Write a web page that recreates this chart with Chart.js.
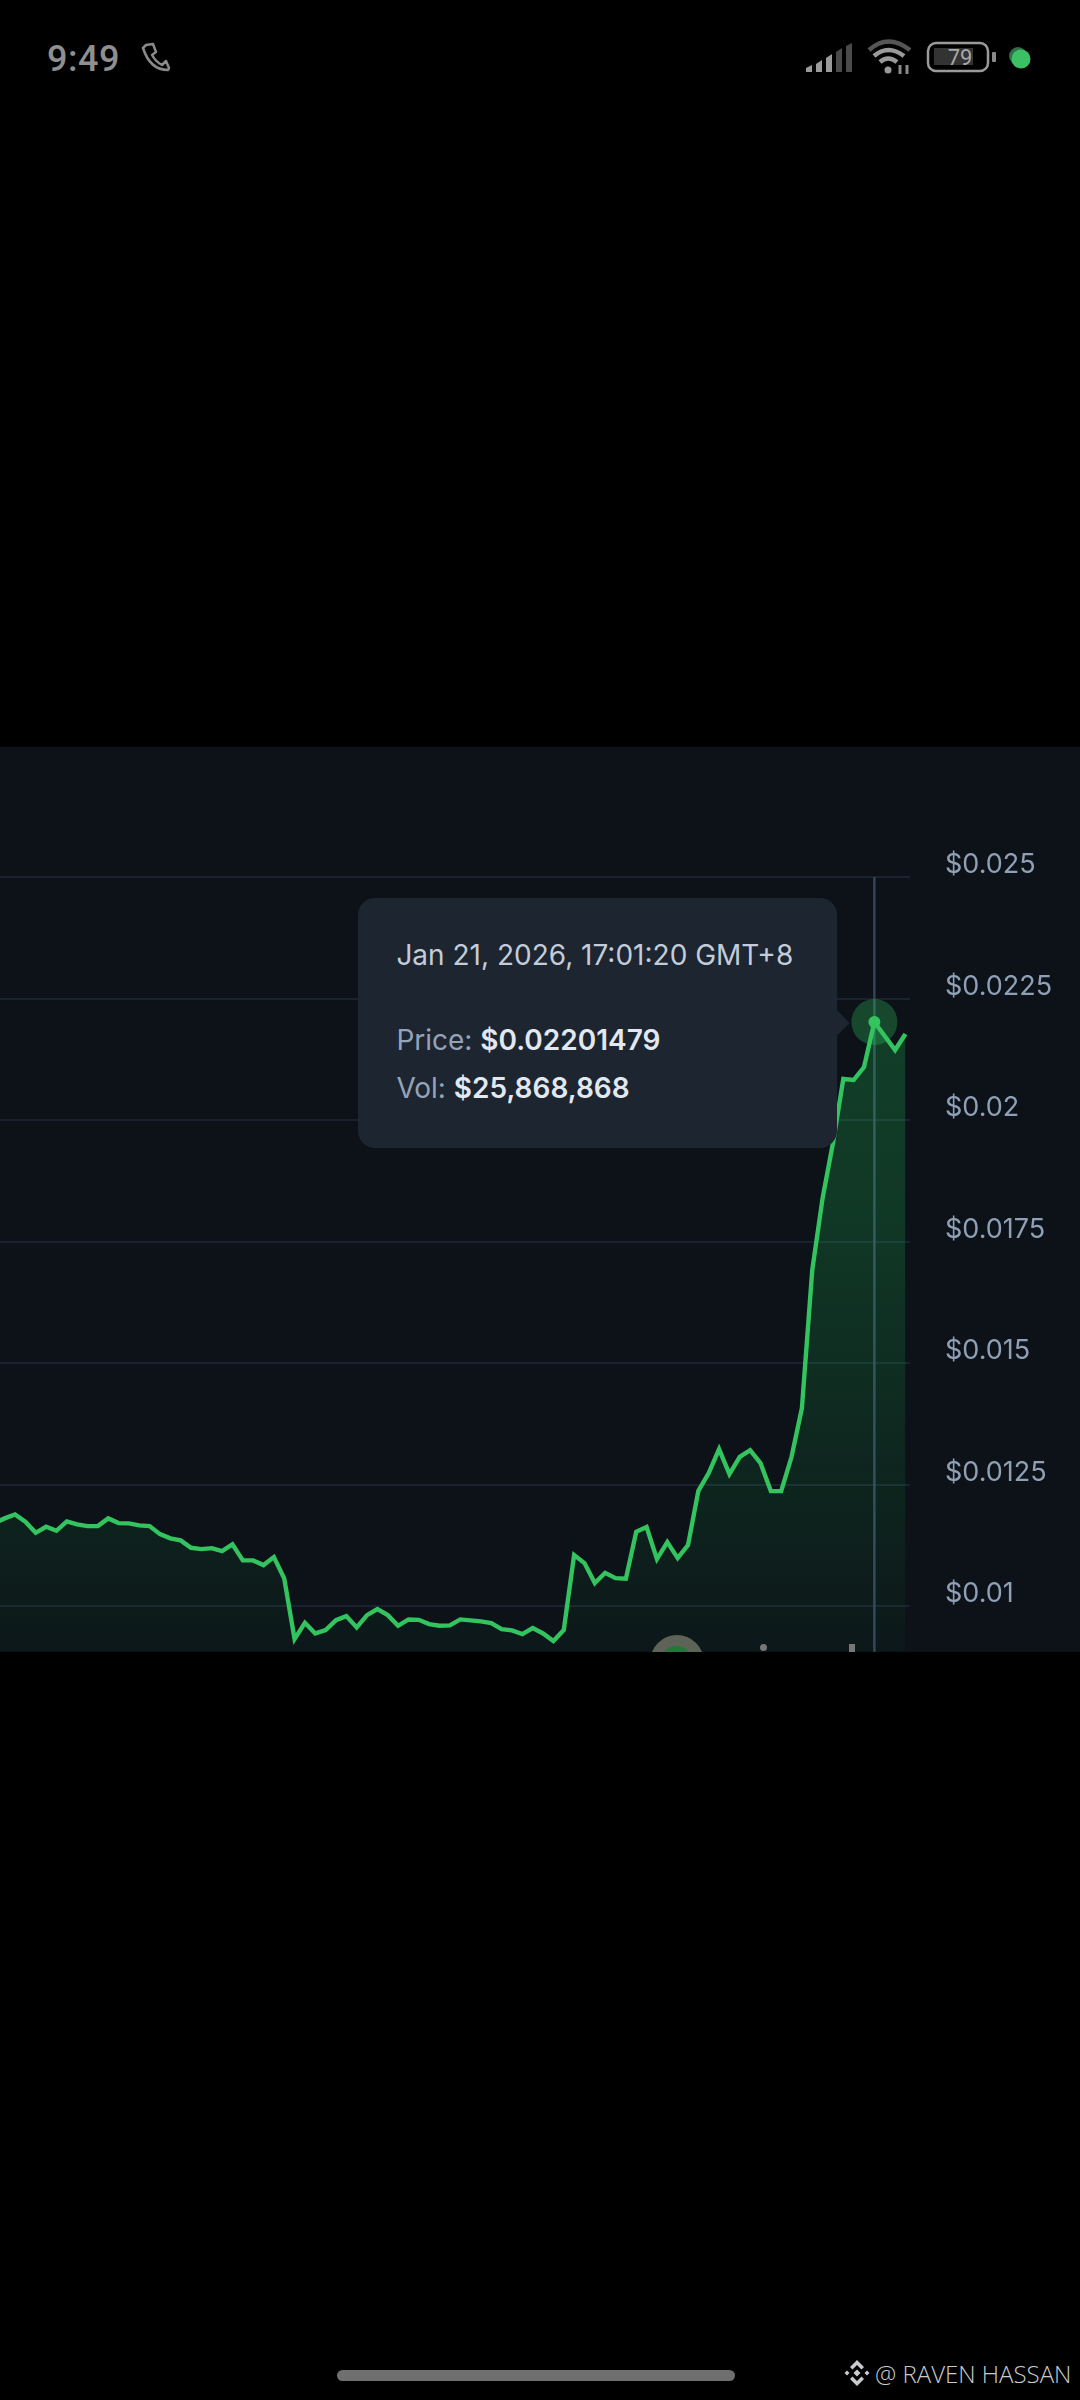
<!DOCTYPE html>
<html>
<head>
<meta charset="utf-8">
<title>Price chart</title>
<script src="https://cdn.jsdelivr.net/npm/chart.js@4"></script>
<style>
  html, body { margin: 0; background: #000; }
  body { position: relative; width: 1080px; height: 2400px; overflow: hidden; font-family: Inter, sans-serif; }

  /* phone status bar */
  #clock { position: absolute; left: 47px; top: 36px; font: 500 36px/46px Roboto, sans-serif; color: #8f8f8f; letter-spacing: 0.5px; }
  #status { position: absolute; left: 0; top: 0; }

  /* chart panel, the canvas runs a bit past its bottom edge and gets cut off */
  #panel { position: absolute; left: 0; top: 747px; width: 1080px; height: 905px; background: #0c1217; overflow: hidden; }
  #panel canvas { position: absolute; left: 0; top: 0; }
  .mark { position: absolute; }

  /* tooltip */
  #tip { position: absolute; box-sizing: border-box; width: 479px; height: 250px; background: #1c2530; border-radius: 17px; color: #94a3b8; font-size: 28px; }
  #tip:after { content: ""; position: absolute; right: -9px; top: 116px; width: 18px; height: 18px; background: #1c2530; transform: rotate(45deg); }
  #tip div { position: absolute; left: 38px; white-space: nowrap; line-height: 34px; }
  #tip .time { top: 40px; color: #c3ccd8; }
  #tip .price { top: 125px; }
  #tip .vol { top: 173px; }
  #tip b { font-weight: 600; color: #e2e8f0; }

  /* footer */
  #pill { position: absolute; left: 337px; top: 2370px; width: 398px; height: 11px; border-radius: 6px; background: #6f6f6f; }
  #credit { position: absolute; left: 875px; top: 2358px; font: 300 24px/32px "Open Sans", sans-serif; color: #c8cccf; white-space: nowrap; }
  #logo { position: absolute; left: 842px; top: 2358px; }
</style>
</head>
<body>

<div id="clock">9:49</div>
<svg id="status" width="1080" height="100">
  <!-- phone icon -->
  <path d="M146 45 L153 44 L156 52 L152 55 Q156 62 162 65 L166 61 L169 68 L168 70 Q150 70 143 48 Z" fill="none" stroke="#8a8a8a" stroke-width="2.5" stroke-linejoin="round"/>
  <!-- signal bars -->
  <polygon points="806,68 812,65 812,72 806,72" fill="#9a9a9a"/>
  <polygon points="816,64 822,60 822,72 816,72" fill="#9a9a9a"/>
  <polygon points="826,58 832,54 832,72 826,72" fill="#9a9a9a"/>
  <polygon points="836,52 842,48 842,72 836,72" fill="#4a4a4a"/>
  <polygon points="846,46 852,43 852,72 846,72" fill="#4a4a4a"/>
  <!-- wifi -->
  <path d="M869 50 Q888 33 910 50" fill="none" stroke="#555" stroke-width="4.5"/>
  <path d="M874 56 Q888 44 904 56" fill="none" stroke="#9a9a9a" stroke-width="4.5"/>
  <path d="M880 62 Q888 55 897 62" fill="none" stroke="#9a9a9a" stroke-width="4.5"/>
  <circle cx="888" cy="70" r="3.5" fill="#9a9a9a"/>
  <path d="M900 65 V74 M907 65 V74" stroke="#8a8a8a" stroke-width="3"/>
  <!-- battery -->
  <rect x="928" y="43" width="60" height="28" rx="8" fill="none" stroke="#9a9a9a" stroke-width="2.5"/>
  <rect x="934" y="48" width="39" height="17" fill="#333"/>
  <rect x="992" y="52" width="4" height="10" rx="1" fill="#8a8a8a"/>
  <text x="960" y="65" text-anchor="middle" font-family="Roboto, sans-serif" font-size="22" fill="#a8a8a8">79</text>
  <!-- camera dot -->
  <circle cx="1018" cy="56" r="9" fill="#2c6e46"/>
  <circle cx="1021" cy="59" r="9.5" fill="#3cc065"/>
</svg>

<div id="panel">
  <canvas id="priceChart" width="1080" height="956"></canvas>
  <!-- tops of the site watermark, cut off by the panel edge -->
  <div class="mark" style="left:650px;top:888px;width:54px;height:54px;border-radius:50%;background:#5e6358"></div>
  <div class="mark" style="left:661px;top:899px;width:31px;height:31px;border-radius:50%;background:#1f7a35"></div>
  <div class="mark" style="left:760px;top:897px;width:7px;height:7px;border-radius:50%;background:#777"></div>
  <div class="mark" style="left:849px;top:897px;width:6px;height:10px;background:#777"></div>
  <div id="tip"></div>
</div>

<div id="pill"></div>
<svg id="logo" width="30" height="30" viewBox="0 0 30 30" fill="#c8cccf">
  <polygon points="15,2 22,9 19.5,11.5 15,7 10.5,11.5 8,9"/>
  <polygon points="15,28 22,21 19.5,18.5 15,23 10.5,18.5 8,21"/>
  <polygon points="15,11.5 18.5,15 15,18.5 11.5,15"/>
  <polygon points="5,12.5 7.5,15 5,17.5 2.5,15"/>
  <polygon points="25,12.5 27.5,15 25,17.5 22.5,15"/>
</svg>
<div id="credit">@ RAVEN HASSAN</div>

<script>
// values, oldest first
const prices = [
  0.011708, 0.011805, 0.011887, 0.011735, 0.011508, 0.011632, 0.011549, 0.011743, 0.011681, 0.011646,
  0.011646, 0.011805, 0.011708, 0.011702, 0.011660, 0.011646, 0.011481, 0.011393, 0.011352, 0.011200,
  0.011173, 0.011193, 0.011132, 0.011270, 0.010940, 0.010940, 0.010844, 0.011008, 0.010570, 0.009321,
  0.009656, 0.009438, 0.009506, 0.009712, 0.009794, 0.009562, 0.009815, 0.009938, 0.009815, 0.009595,
  0.009726, 0.009718, 0.009630, 0.009595, 0.009603, 0.009726, 0.009706, 0.009685, 0.009650, 0.009527,
  0.009500, 0.009424, 0.009547, 0.009438, 0.009280, 0.009506, 0.011049, 0.010885, 0.010473, 0.010685,
  0.010576, 0.010562, 0.011529, 0.011626, 0.010967, 0.011317, 0.010988, 0.011255, 0.012372, 0.012737,
  0.013230, 0.012716, 0.013072, 0.013210, 0.012942, 0.012366, 0.012366, 0.013072, 0.014074, 0.016914,
  0.018395, 0.019527, 0.020844, 0.020823, 0.021091, 0.02201479, 0.021728, 0.021440, 0.021770
];
const yTicks = [0.01, 0.0125, 0.015, 0.0175, 0.02, 0.0225, 0.025];

// the sample the tooltip is open on
const activeIndex = 85;
const activeTime = "Jan 21, 2026, 17:01:20 GMT+8";
const activeVol = "$25,868,868";

const lineColor = "#33c45f";

// crosshair under the line, at the active sample
const crosshair = {
  id: "crosshair",
  beforeDatasetsDraw(chart) {
    const x = chart.scales.x.getPixelForValue(activeIndex);
    const { top, bottom } = chart.chartArea;
    const ctx = chart.ctx;
    ctx.save();
    ctx.strokeStyle = "#344459";
    ctx.lineWidth = 2.5;
    ctx.beginPath();
    ctx.moveTo(x, top);
    ctx.lineTo(x, bottom);
    ctx.stroke();
    ctx.restore();
  }
};

function areaFill(context) {
  const area = context.chart.chartArea;
  if (!area) return "transparent";
  const g = context.chart.ctx.createLinearGradient(0, area.top, 0, area.bottom);
  g.addColorStop(0, "rgba(34,197,94,0.28)");
  g.addColorStop(0.42, "rgba(34,197,94,0.22)");
  g.addColorStop(0.8, "rgba(34,197,94,0.10)");
  g.addColorStop(1, "rgba(34,197,94,0.03)");
  return g;
}

function showTip(context) {
  const tip = document.getElementById("tip");
  const model = context.tooltip;
  if (!model.dataPoints || !model.dataPoints.length) return;
  tip.innerHTML =
    `<div class="time">${activeTime}</div>` +
    `<div class="price">Price: <b>$${prices[activeIndex].toFixed(8)}</b></div>` +
    `<div class="vol">Vol: <b>${activeVol}</b></div>`;
  tip.style.left = (model.caretX - 516) + "px";
  tip.style.top = (model.caretY - 124) + "px";
}

const chart = new Chart(document.getElementById("priceChart"), {
  type: "line",
  data: {
    datasets: [
      {
        label: "Price",
        data: prices.map((p, i) => ({ x: i, y: p })),
        borderColor: lineColor,
        borderWidth: 4.4,
        borderJoinStyle: "miter",
        tension: 0,
        fill: "start",
        backgroundColor: areaFill,
        pointBackgroundColor: lineColor,
        pointBorderWidth: 0,
        pointRadius: c => (c.dataIndex === activeIndex ? 6 : 0)
      },
      {
        label: "Halo",
        data: [{ x: activeIndex, y: prices[activeIndex] }],
        showLine: false,
        pointRadius: 23,
        pointBorderWidth: 0,
        pointBackgroundColor: "rgba(51,196,95,0.3)"
      }
    ]
  },
  options: {
    responsive: false,
    animation: false,
    events: [],
    layout: { autoPadding: false, padding: { top: 130 } },
    plugins: {
      legend: { display: false },
      tooltip: { enabled: false, external: showTip }
    },
    scales: {
      x: { type: "linear", display: false, min: 0.55, max: 88.44, ticks: { display: false } },
      y: {
        position: "right",
        min: 0.00906,
        max: 0.025,
        afterFit: scale => { scale.width = 170; },
        afterBuildTicks: scale => { scale.ticks = yTicks.map(v => ({ value: v })); },
        border: { display: false },
        grid: { color: "#1a2230", lineWidth: 2, drawTicks: false },
        ticks: {
          autoSkip: false,
          padding: 35,
          labelOffset: -12,
          color: "#8f9fb5",
          font: { family: "Inter", size: 27 },
          callback: v => "$" + v
        }
      }
    }
  },
  plugins: [crosshair]
});

chart.tooltip.setActiveElements([{ datasetIndex: 0, index: activeIndex }], { x: 0, y: 0 });
chart.update();
</script>
</body>
</html>
